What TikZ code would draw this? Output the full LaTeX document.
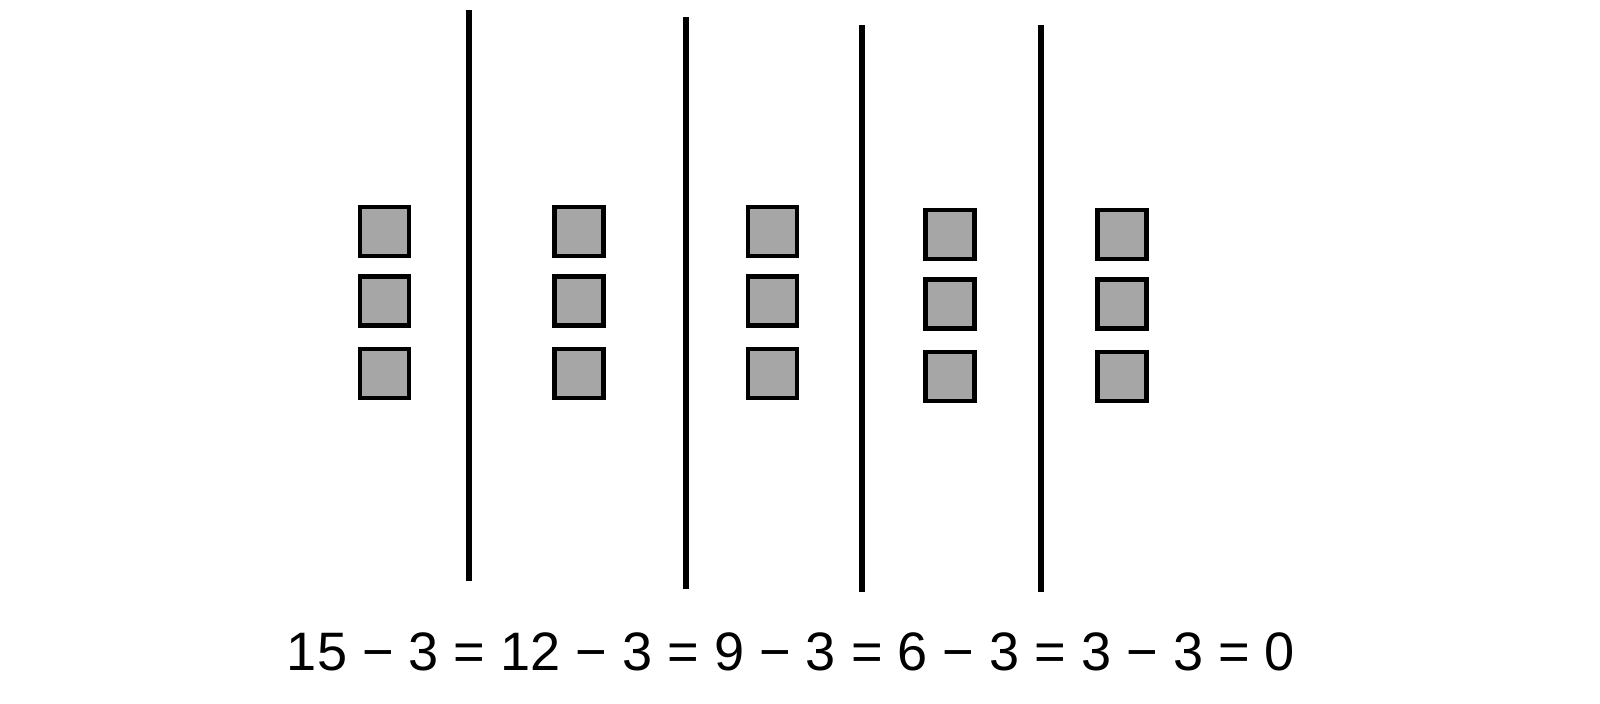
\documentclass[tikz,border=0pt]{standalone}
\usepackage{fontspec}
\setmainfont{Liberation Sans}
\definecolor{tilegray}{HTML}{A6A6A6}

\begin{document}
\begin{tikzpicture}
\useasboundingbox (0,0) rectangle (16,7.03);
\tikzset{tile/.style={draw, fill=tilegray, line width=1.2pt, minimum size=0.49cm, inner sep=0pt},
	divider/.style={line width=1.9pt}}
	% groups of three
	\foreach \x/\y/\n in {3.845/4.715/1, 5.79/4.715/2, 7.725/4.715/3, 9.50/4.685/4, 11.22/4.685/5} {
		\node[tile] (g\n a) at (\x,\y) {};
		\node[tile] (g\n b) at (\x,\y-0.695) {};
		\node[tile] (g\n c) at (\x,\y-1.42) {};
	}
	% dividing lines
	\coordinate (t1) at (4.69,6.93); \coordinate (b1) at (4.69,1.22);
	\coordinate (t2) at (6.86,6.86); \coordinate (b2) at (6.86,1.14);
	\coordinate (t3) at (8.62,6.78); \coordinate (b3) at (8.62,1.11);
	\coordinate (t4) at (10.41,6.78); \coordinate (b4) at (10.41,1.11);
	\foreach \i in {1,...,4}
		\draw[divider] (t\i) -- (b\i);
	
	\node[anchor=base, inner sep=0pt, font=\fontsize{15.4}{18}\selectfont] (eq) at (7.91,0.33)
		{15 − 3 = 12 − 3 = 9 − 3 = 6 − 3 = 3 − 3 = 0};
\end{tikzpicture}
\end{document}
